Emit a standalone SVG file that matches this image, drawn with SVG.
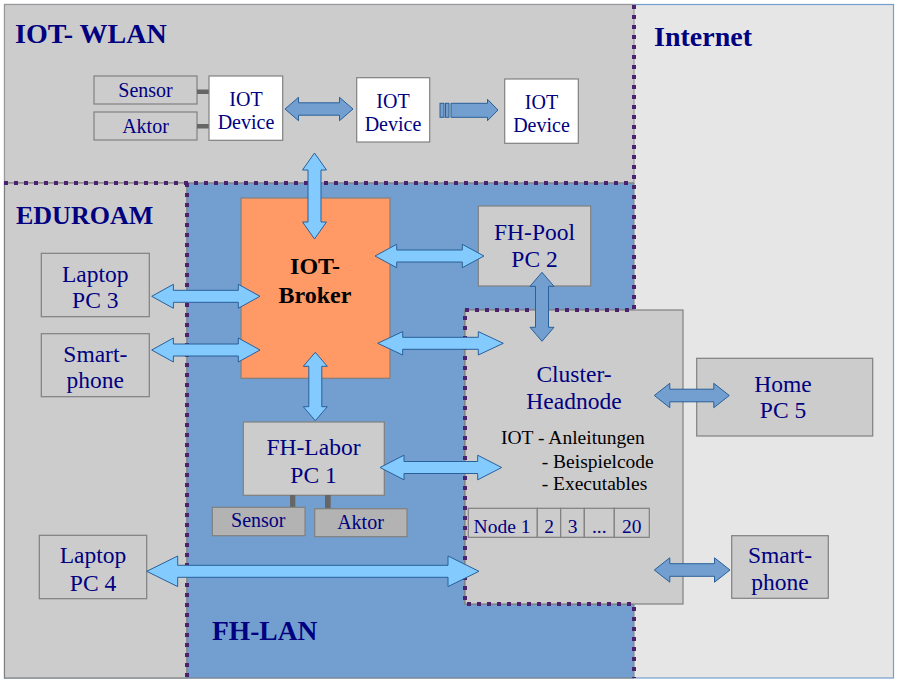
<svg xmlns="http://www.w3.org/2000/svg" width="900" height="684" viewBox="0 0 900 684">
<style>
.t{font-family:"Liberation Serif","Times New Roman",serif;fill:#000080;text-anchor:middle}
.s20{font-size:20px}.s24{font-size:23.5px}
.zone{font-family:"Liberation Serif","Times New Roman",serif;font-weight:bold;fill:#000080;font-size:28px}
.box{fill:#cccccc;stroke:#808080;stroke-width:1.2}
.wbox{fill:#ffffff;stroke:#808080;stroke-width:1.2}
.dbox{fill:#b3b3b3;stroke:#808080;stroke-width:1.2}
.stub{fill:#666666}
.dot{fill:none;stroke:#4a2270;stroke-width:4;stroke-dasharray:4 6}
.la{fill:#83caff;stroke:#2a6099;stroke-width:1}
.sa{fill:#729fcf;stroke:#2a6099;stroke-width:1}
.blk{font-family:"Liberation Serif","Times New Roman",serif;fill:#000000;font-size:19.5px}
</style>
<g id="zones">
<rect x="4.5" y="4.5" width="889" height="673.5" fill="#e6e6e6" stroke="#729fcf" stroke-width="1.2"/>
<rect x="4.5" y="4.5" width="629.5" height="178.5" fill="#cccccc" stroke="#999999" stroke-width="1.2"/>
<rect x="4.5" y="183" width="182.5" height="495" fill="#cccccc" stroke="#808080" stroke-width="1.2"/>
<polygon points="187,183 634,183 634,310 465,310 465,604 634,604 634,678 187,678" fill="#729fcf" stroke="#808080" stroke-width="1"/>
<rect x="465" y="310" width="218" height="294" fill="#cccccc" stroke="#808080" stroke-width="1.2"/>
<path class="dot" d="M4,183 H634"/>
<path class="dot" d="M634,5 V310 H465 V604 H634 V678"/>
<path class="dot" d="M187,183 V678"/>
<text class="zone" x="15" y="43">IOT- WLAN</text>
<text class="zone" x="654" y="46">Internet</text>
<text class="zone" x="16" y="224" style="font-size:26px">EDUROAM</text>
<text class="zone" x="212" y="640" style="font-size:27.5px">FH-LAN</text>
</g>
<g id="node-sensor-wlan"><rect class="box" x="94" y="76" width="103" height="28"/><text class="t s20" x="145.5" y="97">Sensor</text></g>
<g id="node-aktor-wlan"><rect class="box" x="94" y="112" width="103" height="28"/><text class="t s20" x="145.5" y="132.7">Aktor</text></g>
<g id="stubs-wlan"><rect class="stub" x="197" y="89.5" width="12" height="4.5"/><rect class="stub" x="197" y="124" width="12" height="4.5"/></g>
<g id="node-iot-device-1"><rect class="wbox" x="209" y="76" width="73.7" height="64.3"/><text class="t s20" x="246" y="106">IOT</text><text class="t s20" x="246" y="129">Device</text></g>
<g id="node-iot-device-2"><rect class="wbox" x="356.7" y="77.7" width="73" height="64.3"/><text class="t s20" x="393" y="108.3">IOT</text><text class="t s20" x="393" y="131">Device</text></g>
<g id="node-iot-device-3"><rect class="wbox" x="504.7" y="79" width="73.6" height="64.3"/><text class="t s20" x="541.5" y="109">IOT</text><text class="t s20" x="541.5" y="131.7">Device</text></g>
<g id="node-broker"><rect x="241" y="198" width="149" height="180.3" fill="#ff9966" stroke="#808080" stroke-width="1.2"/>
<text x="315" y="274.3" text-anchor="middle" font-family="Liberation Serif, serif" font-weight="bold" font-size="24" fill="#000">IOT-</text>
<text x="315" y="302.7" text-anchor="middle" font-family="Liberation Serif, serif" font-weight="bold" font-size="24" fill="#000">Broker</text></g>
<g id="node-fh-pool"><rect class="box" x="478.3" y="206" width="112.4" height="80"/><text class="t s24" x="534.5" y="240">FH-Pool</text><text class="t s24" x="534.5" y="267.3">PC 2</text></g>
<g id="node-laptop3"><rect class="box" x="41.3" y="253.3" width="108" height="63.4"/><text class="t s24" x="95.3" y="281.7">Laptop</text><text class="t s24" x="95.3" y="308.3">PC 3</text></g>
<g id="node-smartphone-left"><rect class="box" x="41.3" y="333.7" width="108" height="63"/><text class="t s24" x="95.3" y="361.7">Smart-</text><text class="t s24" x="95.3" y="388.3">phone</text></g>
<g id="node-cluster"><text class="t s24" x="574" y="381.7">Cluster-</text><text class="t s24" x="574" y="409.3">Headnode</text>
<text class="blk" x="501" y="444.3">IOT - Anleitungen</text>
<text class="blk" x="541.7" y="467.7">- Beispielcode</text>
<text class="blk" x="541.7" y="490">- Executables</text>
<g id="cluster-nodes">
<rect class="box" x="468.3" y="508.3" width="69" height="29"/>
<rect class="box" x="537.3" y="508.3" width="23.4" height="29"/>
<rect class="box" x="560.7" y="508.3" width="23.6" height="29"/>
<rect class="box" x="584.3" y="508.3" width="30" height="29"/>
<rect class="box" x="614.3" y="508.3" width="35" height="29"/>
<text class="t" style="font-size:19.5px" x="502" y="532.7">Node 1</text>
<text class="t" style="font-size:19.5px" x="549" y="532.7">2</text>
<text class="t" style="font-size:19.5px" x="572.5" y="532.7">3</text>
<text class="t" style="font-size:19.5px" x="599.3" y="532.7">...</text>
<text class="t" style="font-size:19.5px" x="631.8" y="532.7">20</text>
</g></g>
<g id="node-home"><rect class="box" x="696.7" y="358.3" width="176" height="77.7"/><text class="t s24" x="783" y="391.7">Home</text><text class="t s24" x="783" y="418.3">PC 5</text></g>
<g id="node-fh-labor"><rect class="box" x="243.3" y="422" width="141" height="73.3"/><text class="t s24" x="313.5" y="455">FH-Labor</text><text class="t s24" x="313.5" y="482.7">PC 1</text></g>
<g id="stubs-labor"><rect class="stub" x="290" y="495" width="5.3" height="12.5"/><rect class="stub" x="325" y="495" width="5.7" height="14"/></g>
<g id="node-sensor-labor"><rect class="dbox" x="212.3" y="507.3" width="92.7" height="28.4"/><text class="t s20" x="258.3" y="527.3">Sensor</text></g>
<g id="node-aktor-labor"><rect class="dbox" x="314.7" y="508.7" width="92.3" height="28"/><text class="t s20" x="360.5" y="529.3">Aktor</text></g>
<g id="node-laptop4"><rect class="box" x="39.3" y="535.3" width="107.4" height="63.4"/><text class="t s24" x="93" y="562.7">Laptop</text><text class="t s24" x="93" y="590.7">PC 4</text></g>
<g id="node-smartphone-right"><rect class="box" x="731.7" y="535.7" width="96.6" height="62.6"/><text class="t s24" x="780" y="563.3">Smart-</text><text class="t s24" x="780" y="590">phone</text></g>
<g id="connectors">
<polygon class="sa" points="285,109 298.5,97.3 298.5,102.8 339.5,102.8 339.5,97.3 353,109 339.5,120.7 339.5,115.2 298.5,115.2 298.5,120.7"/>
<rect class="sa" x="440" y="103.3" width="4" height="14"/>
<rect class="sa" x="445.5" y="103.3" width="3.5" height="14"/>
<polygon class="sa" points="451,103.3 487.5,103.3 487.5,99.3 498,110 487.5,120.7 487.5,117.3 451,117.3"/>
<polygon class="la" points="314.5,153 326.5,170 321,170 321,222 326.5,222 314.5,239 302.5,222 308,222 308,170 302.5,170"/>
<polygon class="la" points="151.7,296.3 173.4,284.3 173.4,290.3 238.3,290.3 238.3,284.3 260,296.3 238.3,308.3 238.3,302.3 173.4,302.3 173.4,308.3"/>
<polygon class="la" points="151.7,350 173.4,338 173.4,344 238.3,344 238.3,338 260,350 238.3,362 238.3,356 173.4,356 173.4,362"/>
<polygon class="la" points="375,256 396.7,244.3 396.7,250 462.3,250 462.3,244.3 484,256 462.3,267.7 462.3,262 396.7,262 396.7,267.7"/>
<polygon class="la" points="377.7,343.3 402.7,331.6 402.7,337.3 478.3,337.3 478.3,331.6 503.3,343.3 478.3,355 478.3,349.3 402.7,349.3 402.7,355"/>
<polygon class="sa" points="542,272.3 554,286.3 548.5,286.3 548.5,327.3 554,327.3 542,341.3 530,327.3 535.5,327.3 535.5,286.3 530,286.3"/>
<polygon class="sa" points="654.3,395.5 669.8,383.3 669.8,389.2 713.8,389.2 713.8,383.3 729.3,395.5 713.8,407.7 713.8,401.8 669.8,401.8 669.8,407.7"/>
<polygon class="la" points="315.3,352.3 327.3,366.3 321.8,366.3 321.8,406.7 327.3,406.7 315.3,420.7 303.3,406.7 308.8,406.7 308.8,366.3 303.3,366.3"/>
<polygon class="la" points="380,467.5 404,455.2 404,461.5 477.7,461.5 477.7,455.2 501.7,467.5 477.7,479.8 477.7,473.5 404,473.5 404,479.8"/>
<polygon class="la" points="146.7,571.3 177.7,556 177.7,565.3 448,565.3 448,556 479,571.3 448,586.6 448,577.3 177.7,577.3 177.7,586.6"/>
<polygon class="sa" points="654.3,570 669.8,557.8 669.8,563.7 714.5,563.7 714.5,557.8 730,570 714.5,582.2 714.5,576.3 669.8,576.3 669.8,582.2"/>
</g>
</svg>
